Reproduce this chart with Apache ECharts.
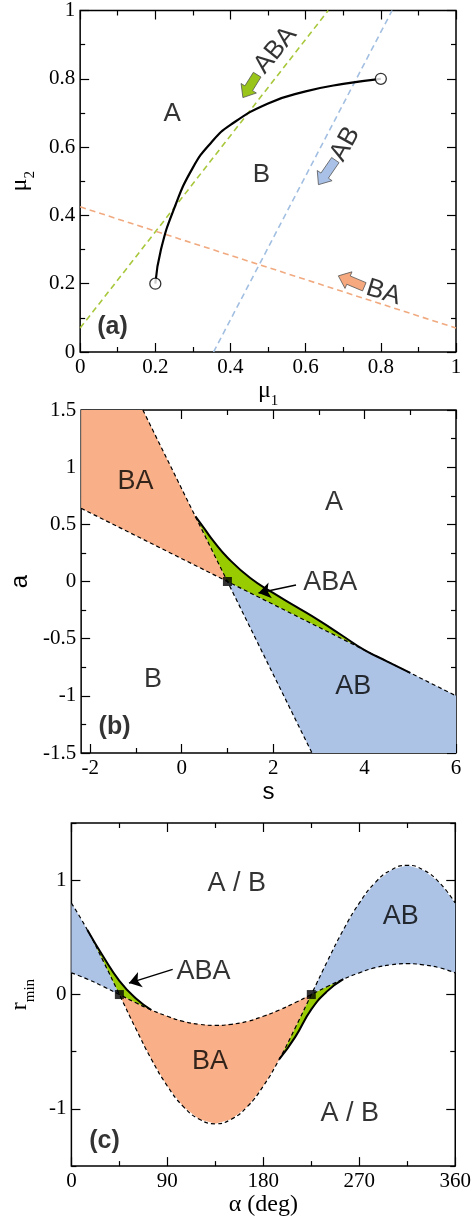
<!DOCTYPE html>
<html>
<head>
<meta charset="utf-8">
<script src="https://cdn.jsdelivr.net/npm/echarts@6/dist/echarts.min.js"></script>
<style>html,body{margin:0;padding:0;background:#fff}#chart{width:474px;height:1218px}</style>
</head>
<body>
<div id="chart"></div>
<script>
// ---- panel (a) data ----
const abaLineA = [[0, 0.07], [0.66, 1]];
const abLineA = [[0.355, 0], [0.83, 1]];
const baLineA = [[0, 0.425], [1, 0.07]];
const pathA = [[0.2, 0.2], [0.215, 0.3], [0.25, 0.42], [0.3, 0.54], [0.35, 0.615], [0.4, 0.665], [0.5, 0.728], [0.6, 0.763], [0.7, 0.785], [0.8, 0.8]];
const endsA = [[0.2, 0.2], [0.8, 0.8]];
// block arrows: [tail, tip, colour]
const arrowsA = [
    [[0.471, 0.812], [0.433, 0.745], '#99c51a'],
    [[0.679, 0.562], [0.634, 0.49], '#a9c1e6'],
    [[0.756, 0.191], [0.687, 0.223], '#f6a97e']
];
const textA = [['A', 0.245, 0.696, 0], ['B', 0.482, 0.52, 0], ['ABA', 0.52, 0.884, 51], ['AB', 0.705, 0.609, 61], ['BA', 0.807, 0.174, -17]];

// ---- panel (b) data ----
const steepB = [[-0.85, 1.5], [2.85, -1.5]];
const lowerB = [[-2.2, 0.64], [6, -1.0]];
const curveB = [[0.3, 0.57], [0.5, 0.46], [0.7, 0.35], [1, 0.21], [1.5, 0.03], [2, -0.1], [2.5, -0.22], [3, -0.34], [3.5, -0.47], [4, -0.6], [4.5, -0.7], [5, -0.8]];
const baFillB = [[-2.2, 1.5], [-0.85, 1.5], [1, 0], [-2.2, 0.64]];
const abFillB = [[1, 0], [6, -1.0], [6, -1.5], [2.85, -1.5]];
const textB = [['BA', -1.01, 0.87], ['A', 3.33, 0.69], ['B', -0.63, -0.86], ['AB', 3.75, -0.92], ['ABA', 3.25, -0.01]];
const arrowB = [[2.5, -0.03], [1.68, -0.1]];

// ---- panel (c) data ----
const alpha = [0, 15, 30, 45, 60, 75, 90, 105, 120, 135, 150, 165, 180, 195, 210, 225, 240, 255, 270, 285, 300, 315, 330, 345, 360];
const upperC = [0.8, 0.565, 0.29, 0, -0.29, -0.565, -0.8, -0.98, -1.09, -1.13, -1.09, -0.98, -0.8, -0.565, -0.29, 0, 0.29, 0.565, 0.8, 0.98, 1.09, 1.13, 1.09, 0.98, 0.8];
const lowerC = [0.19, 0.135, 0.07, 0, -0.07, -0.135, -0.19, -0.235, -0.26, -0.27, -0.26, -0.235, -0.19, -0.135, -0.07, 0, 0.07, 0.135, 0.19, 0.235, 0.26, 0.27, 0.26, 0.235, 0.19];
const black1C = [[15, 0.565], [30, 0.33], [45, 0.12], [60, -0.03], [75, -0.135]];
const black2C = [[195, -0.565], [210, -0.37], [225, -0.13], [240, 0.03], [255, 0.135]];
const textC = [['A / B', 155, 0.97], ['AB', 309, 0.68], ['BA', 130, -0.59], ['A / B', 261, -1.04], ['ABA', 124, 0.2]];
const arrowC = [[95, 0.22], [54, 0.1]];
const squaresB = [[1, 0]];
const squaresC = [[45, 0], [225, 0]];

const panelTags = [['(a)', 0.086, 0.073], ['(b)', -1.47, -1.27], ['(c)', 31, -1.28]];

const ORANGE = '#f9b088', BLUE = '#adc3e6', GREEN = '#99cc00';
const SERIF = 'Liberation Serif', SANS = 'Liberation Sans';

const pts = (arr, from, to) => alpha.map((a, i) => [a, arr[i]]).filter(p => p[0] >= from && p[0] <= to);
const rev = a => a.slice().reverse();

const grids = [
    {left: 63, top: 7, width: 393, height: 345},
    {left: 63, top: 410, width: 393, height: 343},
    {left: 63, top: 823, width: 393, height: 344}
].map(g => Object.assign(g, {show: true, borderColor: '#000', borderWidth: 1.5, backgroundColor: 'transparent'}));

const xAxes = [], yAxes = [];
function addAxes(list, g, isX, min, max, majors, minors, labels, name, nameGap) {
    const pos = isX ? ['bottom', 'top'] : ['left', 'right'];
    pos.forEach((p, k) => {
        [majors, minors].forEach((vals, m) => {
            const main = k === 0 && m === 0;
            list.push({
                type: 'value', gridIndex: g, position: p, min: min, max: max,
                axisLine: {show: false, onZero: false}, splitLine: {show: false},
                axisTick: {show: true, inside: true, length: m === 0 ? 9 : 5, customValues: vals, lineStyle: {color: '#000', width: 1.2}},
                axisLabel: main ? {show: true, customValues: majors, color: '#000', fontFamily: SERIF, fontSize: 21, margin: 5,
                    formatter: v => labels[majors.indexOf(+v.toFixed(3))] ?? ''} : {show: false},
                name: main ? name : '', nameLocation: 'middle', nameGap: nameGap,
                nameTextStyle: {color: '#000', fontFamily: name === 's' || name === 'a' ? SANS : SERIF, fontSize: 24,
                    rich: {b: {fontSize: 24, fontFamily: SERIF, verticalAlign: 'bottom'},
                        s: {fontSize: 15, fontFamily: SERIF, verticalAlign: 'bottom', padding: [0, 0, -6, 0]}}}
            });
        });
    });
}
addAxes(xAxes, 0, true, 0, 1, [0, 0.2, 0.4, 0.6, 0.8, 1], [0.1, 0.3, 0.5, 0.7, 0.9], ['0', '0.2', '0.4', '0.6', '0.8', '1'], '{b|μ}{s|1}', 24);
addAxes(yAxes, 0, false, 0, 1, [0, 0.2, 0.4, 0.6, 0.8, 1], [0.1, 0.3, 0.5, 0.7, 0.9], ['0', '0.2', '0.4', '0.6', '0.8', '1'], '{b|μ}{s|2}', 44);
addAxes(xAxes, 1, true, -2.2, 6, [-2, 0, 2, 4, 6], [-1, 1, 3, 5], ['-2', '0', '2', '4', '6'], 's', 22);
addAxes(yAxes, 1, false, -1.5, 1.5, [-1.5, -1, -0.5, 0, 0.5, 1, 1.5], [-1.25, -0.75, -0.25, 0.25, 0.75, 1.25], ['-1.5', '-1', '-0.5', '0', '0.5', '1', '1.5'], 'a', 46);
addAxes(xAxes, 2, true, 0, 360, [0, 90, 180, 270, 360], [45, 135, 225, 315], ['0', '90', '180', '270', '360'], 'α (deg)', 22);
addAxes(yAxes, 2, false, -1.5, 1.5, [-1, 0, 1], [-1.5, -0.5, 0.5, 1.5], ['-1', '0', '1'], '{b|r}{s|min}', 32);

const ax = g => ({xAxisIndex: g * 4, yAxisIndex: g * 4});
const poly = (g, points, color, z) => Object.assign({
    type: 'custom', clip: true, z: z || 1, silent: true, data: [0],
    renderItem: (p, api) => ({type: 'polygon', shape: {points: points.map(q => api.coord(q))}, style: {fill: color}})
}, ax(g));
const line = (g, data, color, width, dash, smooth, z) => Object.assign({
    type: 'line', data: data, symbol: 'none', smooth: smooth || false, z: z || 3, silent: true,
    lineStyle: {color: color, width: width, type: dash ? dash : 'solid'}
}, ax(g));
const texts = (g, arr, size, weight) => Object.assign({
    type: 'scatter', symbolSize: 0, z: 10, silent: true,
    data: arr.map(t => ({name: t[0], value: [t[1], t[2]], label: {rotate: t[3] || 0}})),
    label: {show: true, position: 'inside', formatter: '{b}', color: '#000', fontFamily: SANS, fontSize: size, fontWeight: weight || 'normal'}
}, ax(g));
const thinArrow = (g, c) => Object.assign({
    type: 'lines', coordinateSystem: 'cartesian2d', z: 9, silent: true, symbol: ['none', 'arrow'], symbolSize: 12,
    lineStyle: {color: '#000', width: 1.5, opacity: 1}, data: [{coords: c}]
}, ax(g));
const squares = (g, data) => Object.assign({type: 'scatter', symbol: 'rect', symbolSize: 9, z: 11, itemStyle: {color: '#000'}, data: data}, ax(g));

const blockArrows = Object.assign({
    type: 'custom', z: 8, silent: true, data: arrowsA.map((a, i) => i),
    renderItem: (p, api) => {
        const [tail, tip, color] = arrowsA[p.dataIndex];
        const s = api.coord(tail), t = api.coord(tip);
        const dx = t[0] - s[0], dy = t[1] - s[1], L = Math.hypot(dx, dy);
        const c = dx / L, sn = dy / L, h = 11, H = 9, w = 4.5;
        const local = [[0, -w], [L - h, -w], [L - h, -H], [L, 0], [L - h, H], [L - h, w], [0, w]];
        return {type: 'polygon', shape: {points: local.map(q => [s[0] + q[0] * c - q[1] * sn, s[1] + q[0] * sn + q[1] * c])},
            style: {fill: color, stroke: '#555', lineWidth: 0.8}};
    }
}, ax(0));

const dashK = [4, 3];
const series = [
    // (a)
    line(0, abaLineA, '#a8c83c', 1.6, [6, 4]),
    line(0, abLineA, '#a2bfe2', 1.6, [6, 4]),
    line(0, baLineA, '#f1aa80', 1.6, [6, 4]),
    line(0, pathA, '#000', 2.2, null, true, 5),
    Object.assign({type: 'scatter', symbol: 'circle', symbolSize: 11, z: 6, data: endsA, itemStyle: {color: '#fff', borderColor: '#000', borderWidth: 1.3}}, ax(0)),
    blockArrows,
    texts(0, textA, 26),
    // (b)
    poly(1, baFillB, ORANGE),
    poly(1, abFillB, BLUE),
    poly(1, curveB.slice(0, 10).concat([[1, 0]]), GREEN),
    line(1, steepB, '#000', 1.2, dashK),
    line(1, lowerB, '#000', 1.2, dashK),
    line(1, curveB, '#000', 2, null, true, 4),
    thinArrow(1, arrowB),
    squares(1, squaresB),
    texts(1, textB, 27),
    // (c)
    poly(2, pts(upperC, 0, 45).concat(rev(pts(lowerC, 0, 45))), BLUE),
    poly(2, pts(upperC, 225, 360).concat(rev(pts(lowerC, 225, 360))), BLUE),
    poly(2, pts(lowerC, 45, 225).concat(rev(pts(upperC, 45, 225))), ORANGE),
    poly(2, black1C.concat(rev(pts(lowerC, 45, 75)), rev(pts(upperC, 15, 45))), GREEN),
    poly(2, pts(upperC, 195, 225).concat(pts(lowerC, 225, 255), rev(black2C)), GREEN),
    line(2, pts(upperC, 0, 360), '#000', 1.2, dashK, true),
    line(2, pts(lowerC, 0, 360), '#000', 1.2, dashK, true),
    line(2, black1C, '#000', 2, null, true, 4),
    line(2, black2C, '#000', 2, null, true, 4),
    thinArrow(2, arrowC),
    squares(2, squaresC),
    texts(2, textC, 27)
];
panelTags.forEach((t, g) => series.push(texts(g, [t], 25, 'bold')));

const chart = echarts.init(document.getElementById('chart'), null, {renderer: 'canvas'});
chart.setOption({animation: false, grid: grids, xAxis: xAxes, yAxis: yAxes, series: series});
</script>
</body>
</html>
